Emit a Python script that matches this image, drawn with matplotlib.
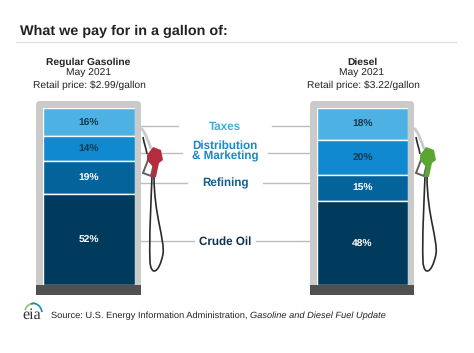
import matplotlib

matplotlib.use("Agg")

import matplotlib.pyplot as plt
from matplotlib.patches import FancyBboxPatch, PathPatch, Polygon, Rectangle
from matplotlib.path import Path

plt.rcParams["font.family"] = ["Liberation Sans", "DejaVu Sans"]
plt.rcParams["text.hinting"] = "no_hinting"

# Data, top segment first
COMPONENTS = ["Taxes", "Distribution\n& Marketing", "Refining", "Crude Oil"]
GASOLINE_SHARES = [16, 14, 19, 52]
DIESEL_SHARES = [18, 20, 15, 48]
GASOLINE_HEADER = ["Regular Gasoline", "May 2021", "Retail price: $2.99/gallon"]
DIESEL_HEADER = ["Diesel", "May 2021", "Retail price: $3.22/gallon"]

SEGMENT_COLORS = ["#4db1e3", "#1089d0", "#04639b", "#003a5c"]
LABEL_COLORS = ["#4aa8d6", "#1a87c9", "#0f5e8f", "#10334f"]
SHARE_COLORS = ["#17384f", "#17384f", "white", "white"]
FRAME = "#cacaca"
BASE = "#505050"
TEXT = "#222222"
LINE = "#bdbdbd"

W, H = 474, 353
fig = plt.figure(figsize=(W / 100, H / 100), dpi=100, facecolor="white")

# Background axes in pixel coordinates, for the pump artwork and the text
bg = fig.add_axes([0, 0, 1, 1])
bg.set_xlim(0, W)
bg.set_ylim(H, 0)
bg.axis("off")


def pump(x0, x1, top, bottom, shares, header, nozzle_color):
    bg.add_patch(
        FancyBboxPatch(
            (x0 + 4, top + 4),
            x1 - x0 - 8,
            bottom - top,
            boxstyle="round,pad=4,rounding_size=4",
            fc=FRAME,
            ec="none",
        )
    )
    bg.add_patch(Rectangle((x0, bottom - 1), x1 - x0, 10, fc=BASE, ec="none", zorder=3))

    # Stack of shares, in its own axes so the heights come from the values
    left = (x0 + 7) / W
    width = (x1 - x0 - 13) / W
    ax = fig.add_axes([left, (H - bottom + 1) / H, width, (bottom - 1 - top - 7) / H])
    ax.set_xlim(0, 1)
    ax.set_ylim(0, sum(shares))
    ax.axis("off")
    y = sum(shares)
    for share, color, text_color in zip(shares, SEGMENT_COLORS, SHARE_COLORS):
        y -= share
        ax.bar(0.5, share, width=1, bottom=y, color=color, edgecolor="white", linewidth=1.0)
        ax.text(
            0.5, y + share / 2, f"{share}%", color=text_color, fontsize=7.4,
            fontweight="bold", ha="center", va="center_baseline",
        )

    cx = (x0 + x1) / 2
    bg.text(cx, 62, header[0], fontsize=7.4, fontweight="bold", color=TEXT, ha="center", va="center")
    bg.text(cx, 73.5, header[1], fontsize=7.4, color=TEXT, ha="center", va="center")
    bg.text(cx + 1, 85, header[2], fontsize=7.4, color=TEXT, ha="center", va="center")

    # Hose and nozzle
    dx = x1
    gray = Path(
        [(dx, 128), (dx + 4, 132), (dx + 7, 140), (dx + 10, 149)],
        [Path.MOVETO, Path.CURVE4, Path.CURVE4, Path.CURVE4],
    )
    bg.add_patch(PathPatch(gray, fc="none", ec=FRAME, lw=2.0))
    upper = Path(
        [(dx + 2, 137), (dx + 3, 143), (dx + 5, 148), (dx + 6, 154)],
        [Path.MOVETO, Path.CURVE4, Path.CURVE4, Path.CURVE4],
    )
    bg.add_patch(PathPatch(upper, fc="none", ec="#2b2b2b", lw=1.2))
    hose = Path(
        [
            (dx + 11, 176), (dx + 10, 205), (dx + 8, 235), (dx + 9, 262),
            (dx + 10, 276), (dx + 18, 274), (dx + 22, 254),
            (dx + 24, 240), (dx + 13, 215), (dx + 13, 176),
        ],
        [Path.MOVETO] + [Path.CURVE4] * 9,
    )
    bg.add_patch(PathPatch(hose, fc="none", ec="#2b2b2b", lw=1.2))
    guard = [(dx + 7, 160), (dx + 2, 173), (dx + 10, 176), (dx + 13, 163)]
    bg.add_patch(Polygon(guard, closed=True, fc="none", ec="#5f5f5f", lw=1.4))
    body = [
        (dx + 6, 155), (dx + 12, 147), (dx + 20, 150), (dx + 22, 160),
        (dx + 18, 163), (dx + 15, 177), (dx + 10, 177), (dx + 12, 167),
        (dx + 6, 160),
    ]
    bg.add_patch(Polygon(body, closed=True, fc=nozzle_color, ec="none", zorder=4))


pump(36, 141, 101, 286, GASOLINE_SHARES, GASOLINE_HEADER, "#b32d3f")
pump(310, 414, 101, 286, DIESEL_SHARES, DIESEL_HEADER, "#5aa632")

# Title and rule
bg.text(20, 31, "What we pay for in a gallon of:", fontsize=10.4, fontweight="bold", color=TEXT, va="center")
bg.plot([16, 456], [41.5, 41.5], color="#e3e3e3", lw=1)

# Component labels with their leader lines
label_y = [126, 153, 183, 241]
left_end = [178, 182, 187, 194]
right_start = [272, 268, 263, 256]
text_y = [126.5, 151, 183.5, 241.5]
for name, y, ty, xl, xr, color in zip(COMPONENTS, label_y, text_y, left_end, right_start, LABEL_COLORS):
    bg.plot([141, xl], [y, y], color=LINE, lw=1.0, zorder=0.5)
    bg.plot([xr, 310], [y, y], color=LINE, lw=1.0, zorder=0.5)
    bg.text(225, ty, name, fontsize=8.4, fontweight="bold", color=color, ha="center", va="center", linespacing=0.98)

# eia logo and source line
bg.text(32, 315, "eia", family="Liberation Serif", fontsize=11.5, color="#333333", ha="center", va="center")
green = Path([(25, 310), (27, 305), (31, 303), (35, 303)], [Path.MOVETO, Path.CURVE4, Path.CURVE4, Path.CURVE4])
blue = Path([(31, 304), (36, 302), (41, 306), (42, 312)], [Path.MOVETO, Path.CURVE4, Path.CURVE4, Path.CURVE4])
bg.add_patch(PathPatch(green, fc="none", ec="#8fbf6a", lw=1.2))
bg.add_patch(PathPatch(blue, fc="none", ec="#1f86ad", lw=1.2))
bg.text(51, 316, "Source: U.S. Energy Information Administration,", fontsize=6.65, color=TEXT, va="center")
bg.text(250.5, 316, "Gasoline and Diesel Fuel Update", fontsize=6.7, style="italic", color=TEXT, va="center")

fig.savefig("out.png", dpi=100)
